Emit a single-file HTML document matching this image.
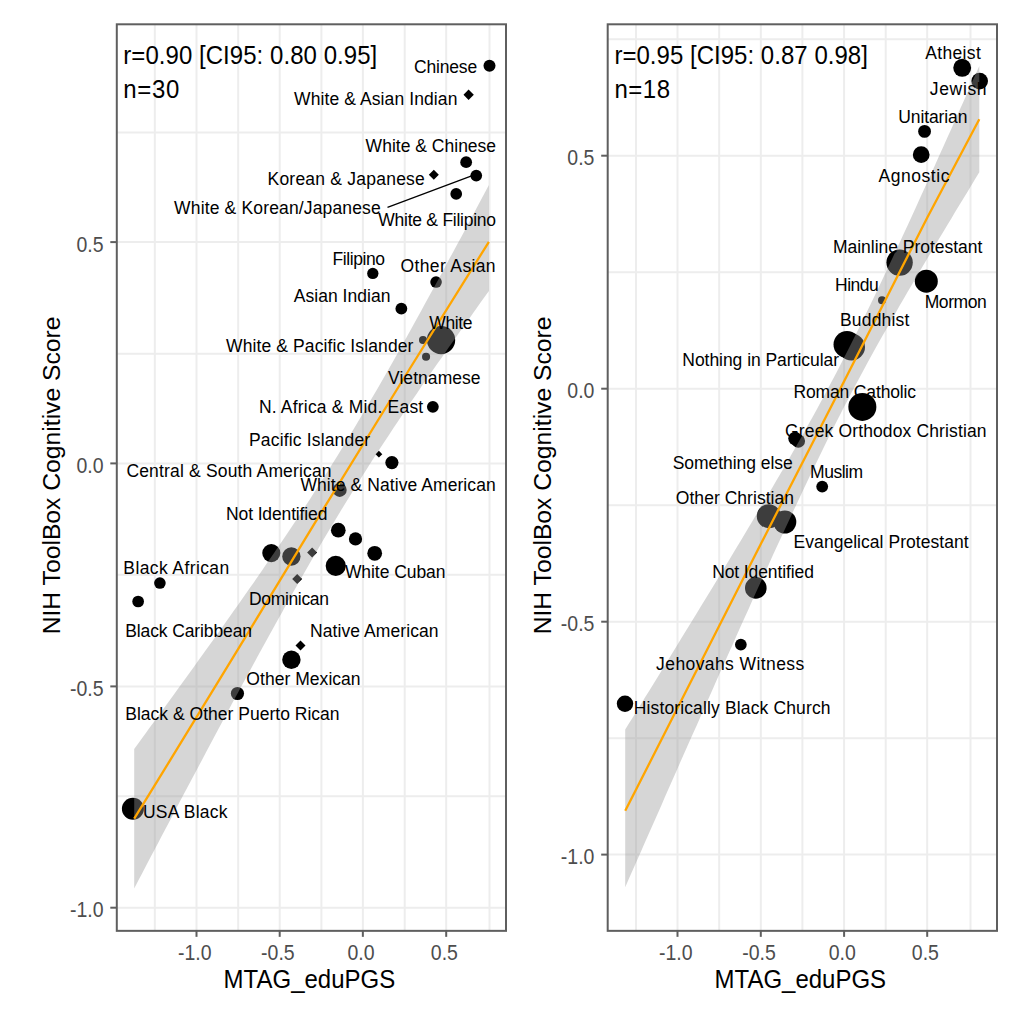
<!DOCTYPE html>
<html><head><meta charset="utf-8"><title>plot</title>
<style>html,body{margin:0;padding:0;background:#fff;width:1024px;height:1018px;overflow:hidden}
svg text{font-family:"Liberation Sans", sans-serif;}</style></head>
<body>
<svg width="1024" height="1018" viewBox="0 0 1024 1018" style="display:block">
<rect width="1024" height="1018" fill="#fff"/>
<clipPath id="clipL"><rect x="116.8" y="24.3" width="389.20" height="906.55"/></clipPath>
<g clip-path="url(#clipL)">
<line x1="154.80" y1="24.3" x2="154.80" y2="930.85" stroke="#ededed" stroke-width="2.0"/>
<line x1="196.50" y1="24.3" x2="196.50" y2="930.85" stroke="#ededed" stroke-width="2.0"/>
<line x1="238.20" y1="24.3" x2="238.20" y2="930.85" stroke="#ededed" stroke-width="2.0"/>
<line x1="279.70" y1="24.3" x2="279.70" y2="930.85" stroke="#ededed" stroke-width="2.0"/>
<line x1="321.40" y1="24.3" x2="321.40" y2="930.85" stroke="#ededed" stroke-width="2.0"/>
<line x1="362.85" y1="24.3" x2="362.85" y2="930.85" stroke="#ededed" stroke-width="2.0"/>
<line x1="404.70" y1="24.3" x2="404.70" y2="930.85" stroke="#ededed" stroke-width="2.0"/>
<line x1="446.20" y1="24.3" x2="446.20" y2="930.85" stroke="#ededed" stroke-width="2.0"/>
<line x1="489.50" y1="24.3" x2="489.50" y2="930.85" stroke="#ededed" stroke-width="2.0"/>
<line x1="116.8" y1="132.40" x2="506.0" y2="132.40" stroke="#ededed" stroke-width="2.0"/>
<line x1="116.8" y1="242.10" x2="506.0" y2="242.10" stroke="#ededed" stroke-width="2.0"/>
<line x1="116.8" y1="353.70" x2="506.0" y2="353.70" stroke="#ededed" stroke-width="2.0"/>
<line x1="116.8" y1="463.40" x2="506.0" y2="463.40" stroke="#ededed" stroke-width="2.0"/>
<line x1="116.8" y1="574.80" x2="506.0" y2="574.80" stroke="#ededed" stroke-width="2.0"/>
<line x1="116.8" y1="686.40" x2="506.0" y2="686.40" stroke="#ededed" stroke-width="2.0"/>
<line x1="116.8" y1="796.20" x2="506.0" y2="796.20" stroke="#ededed" stroke-width="2.0"/>
<line x1="116.8" y1="907.70" x2="506.0" y2="907.70" stroke="#ededed" stroke-width="2.0"/>
<circle cx="489.5" cy="65.7" r="6.00" fill="#000"/>
<polygon points="468.6,89.6 473.8,94.8 468.6,100.0 463.5,94.8" fill="#000"/>
<circle cx="466.15" cy="162.2" r="5.90" fill="#000"/>
<polygon points="433.8,169.8 438.8,174.8 433.8,179.8 428.8,174.8" fill="#000"/>
<circle cx="476.25" cy="175.55" r="5.85" fill="#000"/>
<circle cx="456.2" cy="193.95" r="5.85" fill="#000"/>
<circle cx="372.8" cy="273.4" r="5.65" fill="#000"/>
<circle cx="436.05" cy="282.05" r="5.80" fill="#000"/>
<circle cx="401.35" cy="308.65" r="5.90" fill="#000"/>
<circle cx="441.05" cy="340.05" r="14.15" fill="#000"/>
<circle cx="423" cy="340" r="4.00" fill="#000"/>
<circle cx="426.05" cy="356.75" r="4.05" fill="#000"/>
<circle cx="432.85" cy="406.8" r="5.90" fill="#000"/>
<polygon points="378.9,450.8 382.3,454.2 378.9,457.6 375.5,454.2" fill="#000"/>
<circle cx="391.9" cy="462.6" r="6.60" fill="#000"/>
<circle cx="339.7" cy="489.9" r="7.00" fill="#000"/>
<circle cx="338.3" cy="530.2" r="7.35" fill="#000"/>
<circle cx="355.5" cy="538.9" r="6.65" fill="#000"/>
<circle cx="374.7" cy="553.3" r="7.40" fill="#000"/>
<circle cx="271.3" cy="553.1" r="9.05" fill="#000"/>
<circle cx="291.4" cy="556.5" r="9.15" fill="#000"/>
<polygon points="312.1,547.4 317.1,552.4 312.1,557.4 307.1,552.4" fill="#000"/>
<circle cx="335.75" cy="565.8" r="10.10" fill="#000"/>
<polygon points="297.2,574.1 302.2,579.1 297.2,584.1 292.2,579.1" fill="#000"/>
<circle cx="159.9" cy="583.05" r="5.80" fill="#000"/>
<circle cx="138.15" cy="601.5" r="5.85" fill="#000"/>
<polygon points="300.5,640.4 305.5,645.4 300.5,650.4 295.5,645.4" fill="#000"/>
<circle cx="291.4" cy="659.7" r="9.20" fill="#000"/>
<circle cx="237.45" cy="693.5" r="6.60" fill="#000"/>
<circle cx="132.9" cy="808.7" r="11.00" fill="#000"/>
<polygon points="134.2,749.0 138.2,743.5 142.2,738.1 146.2,732.6 150.1,727.1 154.1,721.7 158.1,716.2 162.1,710.7 166.1,705.2 170.1,699.7 174.1,694.3 178.0,688.8 182.0,683.2 186.0,677.7 190.0,672.2 194.0,666.7 198.0,661.1 202.0,655.6 205.9,650.0 209.9,644.5 213.9,638.9 217.9,633.3 221.9,627.7 225.9,622.1 229.8,616.5 233.8,610.8 237.8,605.2 241.8,599.5 245.8,593.8 249.8,588.1 253.8,582.4 257.7,576.7 261.7,570.9 265.7,565.1 269.7,559.3 273.7,553.5 277.7,547.6 281.7,541.8 285.6,535.9 289.6,529.9 293.6,523.9 297.6,517.9 301.6,511.9 305.6,505.8 309.6,499.7 313.5,493.5 317.5,487.3 321.5,481.1 325.5,474.8 329.5,468.5 333.5,462.1 337.5,455.7 341.4,449.2 345.4,442.7 349.4,436.1 353.4,429.5 357.4,422.8 361.4,416.1 365.4,409.4 369.3,402.6 373.3,395.7 377.3,388.9 381.3,381.9 385.3,375.0 389.3,368.0 393.3,361.0 397.2,353.9 401.2,346.8 405.2,339.7 409.2,332.5 413.2,325.3 417.2,318.1 421.1,310.9 425.1,303.6 429.1,296.3 433.1,289.0 437.1,281.7 441.1,274.4 445.1,267.0 449.0,259.6 453.0,252.2 457.0,244.8 461.0,237.4 465.0,230.0 469.0,222.5 473.0,215.1 476.9,207.6 480.9,200.1 484.9,192.6 488.9,185.1 488.9,291.0 484.9,296.6 480.9,302.1 476.9,307.7 473.0,313.3 469.0,318.9 465.0,324.5 461.0,330.1 457.0,335.7 453.0,341.4 449.0,347.0 445.1,352.7 441.1,358.4 437.1,364.1 433.1,369.8 429.1,375.5 425.1,381.3 421.1,387.1 417.2,392.9 413.2,398.7 409.2,404.6 405.2,410.5 401.2,416.4 397.2,422.4 393.3,428.3 389.3,434.4 385.3,440.4 381.3,446.5 377.3,452.6 373.3,458.8 369.3,465.0 365.4,471.3 361.4,477.6 357.4,483.9 353.4,490.3 349.4,496.7 345.4,503.2 341.4,509.7 337.5,516.3 333.5,522.9 329.5,529.6 325.5,536.3 321.5,543.1 317.5,549.9 313.5,556.7 309.6,563.6 305.6,570.5 301.6,577.5 297.6,584.5 293.6,591.5 289.6,598.6 285.6,605.7 281.7,612.9 277.7,620.0 273.7,627.2 269.7,634.4 265.7,641.7 261.7,648.9 257.7,656.2 253.8,663.5 249.8,670.9 245.8,678.2 241.8,685.6 237.8,692.9 233.8,700.3 229.8,707.8 225.9,715.2 221.9,722.6 217.9,730.1 213.9,737.5 209.9,745.0 205.9,752.5 202.0,760.0 198.0,767.5 194.0,775.0 190.0,782.5 186.0,790.0 182.0,797.6 178.0,805.1 174.1,812.6 170.1,820.2 166.1,827.8 162.1,835.3 158.1,842.9 154.1,850.5 150.1,858.0 146.2,865.6 142.2,873.2 138.2,880.8 134.2,888.4" fill="#999999" fill-opacity="0.4"/>
<polyline points="134.20,818.60 155.00,784.95 238.10,649.20 321.30,512.40 404.60,377.00 488.90,241.80" fill="none" stroke="#FFA500" stroke-width="2.3" stroke-linejoin="round"/>
<line x1="387.5" y1="207.4" x2="471.6" y2="175.9" stroke="#000" stroke-width="1.2"/>
<text x="413.9" y="73.0" font-size="17.5" fill="#000" textLength="63.3" lengthAdjust="spacing">Chinese</text>
<text x="294.0" y="104.6" font-size="17.5" fill="#000" textLength="163.4" lengthAdjust="spacing">White &amp; Asian Indian</text>
<text x="365.6" y="152.4" font-size="17.5" fill="#000" textLength="130.5" lengthAdjust="spacing">White &amp; Chinese</text>
<text x="267.5" y="184.5" font-size="17.5" fill="#000" textLength="157.3" lengthAdjust="spacing">Korean &amp; Japanese</text>
<text x="174.1" y="214.2" font-size="17.5" fill="#000" textLength="206.6" lengthAdjust="spacing">White &amp; Korean/Japanese</text>
<text x="378.3" y="225.9" font-size="17.5" fill="#000" textLength="117.7" lengthAdjust="spacing">White &amp; Filipino</text>
<text x="332.6" y="264.5" font-size="17.5" fill="#000" textLength="52.3" lengthAdjust="spacing">Filipino</text>
<text x="400.5" y="272.3" font-size="17.5" fill="#000" textLength="95.1" lengthAdjust="spacing">Other Asian</text>
<text x="293.8" y="302.2" font-size="17.5" fill="#000" textLength="96.6" lengthAdjust="spacing">Asian Indian</text>
<text x="429.2" y="328.8" font-size="17.5" fill="#000" textLength="43.4" lengthAdjust="spacing">White</text>
<text x="226.0" y="352.0" font-size="17.5" fill="#000" textLength="187.4" lengthAdjust="spacing">White &amp; Pacific Islander</text>
<text x="388.0" y="384.0" font-size="17.5" fill="#000" textLength="92.6" lengthAdjust="spacing">Vietnamese</text>
<text x="258.9" y="412.7" font-size="17.5" fill="#000" textLength="164.3" lengthAdjust="spacing">N. Africa &amp; Mid. East</text>
<text x="249.0" y="445.5" font-size="17.5" fill="#000" textLength="121.1" lengthAdjust="spacing">Pacific Islander</text>
<text x="126.4" y="477.1" font-size="17.5" fill="#000" textLength="205.2" lengthAdjust="spacing">Central &amp; South American</text>
<text x="300.4" y="490.8" font-size="17.5" fill="#000" textLength="195.3" lengthAdjust="spacing">White &amp; Native American</text>
<text x="226.1" y="520.2" font-size="17.5" fill="#000" textLength="101.3" lengthAdjust="spacing">Not Identified</text>
<text x="123.3" y="573.5" font-size="17.5" fill="#000" textLength="105.9" lengthAdjust="spacing">Black African</text>
<text x="344.9" y="578.0" font-size="17.5" fill="#000" textLength="100.6" lengthAdjust="spacing">White Cuban</text>
<text x="249.0" y="604.7" font-size="17.5" fill="#000" textLength="79.9" lengthAdjust="spacing">Dominican</text>
<text x="125.2" y="636.9" font-size="17.5" fill="#000" textLength="126.8" lengthAdjust="spacing">Black Caribbean</text>
<text x="309.9" y="636.9" font-size="17.5" fill="#000" textLength="128.7" lengthAdjust="spacing">Native American</text>
<text x="246.3" y="684.5" font-size="17.5" fill="#000" textLength="114.3" lengthAdjust="spacing">Other Mexican</text>
<text x="125.2" y="720.0" font-size="17.5" fill="#000" textLength="214.4" lengthAdjust="spacing">Black &amp; Other Puerto Rican</text>
<text x="143.0" y="818.1" font-size="17.5" fill="#000" textLength="84.4" lengthAdjust="spacing">USA Black</text>
<text transform="translate(123.3,64.0) scale(1,1.09)" font-size="24" fill="#000" textLength="254.0" lengthAdjust="spacing">r=0.90 [CI95: 0.80 0.95]</text>
<text transform="translate(123.3,98.0) scale(1,1.09)" font-size="24" fill="#000" textLength="56.0" lengthAdjust="spacing">n=30</text>
</g>
<rect x="116.8" y="24.3" width="389.20" height="906.55" fill="none" stroke="#5f5f5f" stroke-width="2.0"/>
<line x1="196.50" y1="930.85" x2="196.50" y2="936.85" stroke="#5f5f5f" stroke-width="2.0"/>
<text transform="translate(194.70,960.2) scale(1,1.12)" font-size="19.5" fill="#4d4d4d" text-anchor="middle">-1.0</text>
<line x1="279.70" y1="930.85" x2="279.70" y2="936.85" stroke="#5f5f5f" stroke-width="2.0"/>
<text transform="translate(277.90,960.2) scale(1,1.12)" font-size="19.5" fill="#4d4d4d" text-anchor="middle">-0.5</text>
<line x1="362.85" y1="930.85" x2="362.85" y2="936.85" stroke="#5f5f5f" stroke-width="2.0"/>
<text transform="translate(361.05,960.2) scale(1,1.12)" font-size="19.5" fill="#4d4d4d" text-anchor="middle">0.0</text>
<line x1="446.20" y1="930.85" x2="446.20" y2="936.85" stroke="#5f5f5f" stroke-width="2.0"/>
<text transform="translate(444.40,960.2) scale(1,1.12)" font-size="19.5" fill="#4d4d4d" text-anchor="middle">0.5</text>
<line x1="110.3" y1="907.70" x2="116.8" y2="907.70" stroke="#5f5f5f" stroke-width="2.0"/>
<text transform="translate(103.50,917.10) scale(1,1.12)" font-size="19.5" fill="#4d4d4d" text-anchor="end">-1.0</text>
<line x1="110.3" y1="686.40" x2="116.8" y2="686.40" stroke="#5f5f5f" stroke-width="2.0"/>
<text transform="translate(103.50,695.80) scale(1,1.12)" font-size="19.5" fill="#4d4d4d" text-anchor="end">-0.5</text>
<line x1="110.3" y1="463.40" x2="116.8" y2="463.40" stroke="#5f5f5f" stroke-width="2.0"/>
<text transform="translate(103.50,472.80) scale(1,1.12)" font-size="19.5" fill="#4d4d4d" text-anchor="end">0.0</text>
<line x1="110.3" y1="242.10" x2="116.8" y2="242.10" stroke="#5f5f5f" stroke-width="2.0"/>
<text transform="translate(103.50,251.50) scale(1,1.12)" font-size="19.5" fill="#4d4d4d" text-anchor="end">0.5</text>
<text transform="translate(309.40,987.8) scale(1,1.08)" font-size="24" fill="#000" text-anchor="middle">MTAG_eduPGS</text>
<text transform="translate(60.4,475.40) rotate(-90)" x="0" y="0" font-size="24.7" fill="#000" text-anchor="middle">NIH ToolBox Cognitive Score</text>
<clipPath id="clipR"><rect x="607.7" y="24.3" width="389.30" height="906.55"/></clipPath>
<g clip-path="url(#clipR)">
<line x1="636.00" y1="24.3" x2="636.00" y2="930.85" stroke="#ededed" stroke-width="2.0"/>
<line x1="677.50" y1="24.3" x2="677.50" y2="930.85" stroke="#ededed" stroke-width="2.0"/>
<line x1="719.20" y1="24.3" x2="719.20" y2="930.85" stroke="#ededed" stroke-width="2.0"/>
<line x1="760.80" y1="24.3" x2="760.80" y2="930.85" stroke="#ededed" stroke-width="2.0"/>
<line x1="802.40" y1="24.3" x2="802.40" y2="930.85" stroke="#ededed" stroke-width="2.0"/>
<line x1="844.10" y1="24.3" x2="844.10" y2="930.85" stroke="#ededed" stroke-width="2.0"/>
<line x1="885.70" y1="24.3" x2="885.70" y2="930.85" stroke="#ededed" stroke-width="2.0"/>
<line x1="927.20" y1="24.3" x2="927.20" y2="930.85" stroke="#ededed" stroke-width="2.0"/>
<line x1="970.50" y1="24.3" x2="970.50" y2="930.85" stroke="#ededed" stroke-width="2.0"/>
<line x1="607.7" y1="39.20" x2="997.0" y2="39.20" stroke="#ededed" stroke-width="2.0"/>
<line x1="607.7" y1="155.70" x2="997.0" y2="155.70" stroke="#ededed" stroke-width="2.0"/>
<line x1="607.7" y1="272.20" x2="997.0" y2="272.20" stroke="#ededed" stroke-width="2.0"/>
<line x1="607.7" y1="388.70" x2="997.0" y2="388.70" stroke="#ededed" stroke-width="2.0"/>
<line x1="607.7" y1="505.20" x2="997.0" y2="505.20" stroke="#ededed" stroke-width="2.0"/>
<line x1="607.7" y1="621.70" x2="997.0" y2="621.70" stroke="#ededed" stroke-width="2.0"/>
<line x1="607.7" y1="738.20" x2="997.0" y2="738.20" stroke="#ededed" stroke-width="2.0"/>
<line x1="607.7" y1="854.60" x2="997.0" y2="854.60" stroke="#ededed" stroke-width="2.0"/>
<circle cx="962.2" cy="67.8" r="8.95" fill="#000"/>
<circle cx="979.7" cy="81.1" r="8.30" fill="#000"/>
<circle cx="924.55" cy="131.4" r="6.40" fill="#000"/>
<circle cx="921.2" cy="154.7" r="8.35" fill="#000"/>
<circle cx="899.6" cy="262.6" r="13.20" fill="#000"/>
<circle cx="926.3" cy="281.2" r="11.50" fill="#000"/>
<circle cx="882" cy="300.3" r="4.00" fill="#000"/>
<circle cx="847" cy="344.5" r="13.50" fill="#000"/>
<circle cx="851.5" cy="347" r="13.50" fill="#000"/>
<circle cx="862.35" cy="406.9" r="14.00" fill="#000"/>
<circle cx="795" cy="438.5" r="6.75" fill="#000"/>
<circle cx="798.3" cy="441" r="6.75" fill="#000"/>
<circle cx="822.2" cy="486.6" r="5.90" fill="#000"/>
<circle cx="768.8" cy="516.2" r="12.00" fill="#000"/>
<circle cx="784.8" cy="522" r="11.50" fill="#000"/>
<circle cx="755.8" cy="587.9" r="10.80" fill="#000"/>
<circle cx="740.85" cy="644.7" r="5.85" fill="#000"/>
<circle cx="625" cy="703.8" r="8.20" fill="#000"/>
<polygon points="625.2,729.6 629.2,723.1 633.2,716.7 637.2,710.2 641.2,703.8 645.1,697.3 649.1,690.9 653.1,684.4 657.1,678.0 661.1,671.5 665.0,665.0 669.0,658.5 673.0,652.1 677.0,645.6 680.9,639.1 684.9,632.6 688.9,626.1 692.9,619.6 696.9,613.1 700.8,606.6 704.8,600.0 708.8,593.5 712.8,587.0 716.7,580.4 720.7,573.9 724.7,567.3 728.7,560.7 732.7,554.1 736.6,547.5 740.6,540.9 744.6,534.3 748.6,527.6 752.5,521.0 756.5,514.3 760.5,507.6 764.5,500.9 768.5,494.1 772.4,487.4 776.4,480.6 780.4,473.7 784.4,466.9 788.4,460.0 792.3,453.0 796.3,446.1 800.3,439.0 804.3,432.0 808.2,424.8 812.2,417.7 816.2,410.4 820.2,403.1 824.2,395.7 828.1,388.3 832.1,380.8 836.1,373.2 840.1,365.5 844.0,357.8 848.0,350.0 852.0,342.1 856.0,334.1 860.0,326.1 863.9,318.0 867.9,309.8 871.9,301.6 875.9,293.3 879.8,284.9 883.8,276.5 887.8,268.1 891.8,259.6 895.8,251.0 899.7,242.4 903.7,233.8 907.7,225.2 911.7,216.5 915.7,207.8 919.6,199.0 923.6,190.3 927.6,181.5 931.6,172.7 935.5,163.9 939.5,155.0 943.5,146.2 947.5,137.3 951.5,128.4 955.4,119.5 959.4,110.6 963.4,101.7 967.4,92.7 971.3,83.8 975.3,74.9 979.3,65.9 979.3,172.3 975.3,178.8 971.3,185.4 967.4,191.9 963.4,198.5 959.4,205.1 955.4,211.6 951.5,218.2 947.5,224.8 943.5,231.5 939.5,238.1 935.5,244.7 931.6,251.4 927.6,258.1 923.6,264.8 919.6,271.5 915.7,278.3 911.7,285.0 907.7,291.8 903.7,298.7 899.7,305.6 895.8,312.5 891.8,319.4 887.8,326.4 883.8,333.4 879.8,340.5 875.9,347.6 871.9,354.8 867.9,362.1 863.9,369.4 860.0,376.8 856.0,384.2 852.0,391.8 848.0,399.4 844.0,407.0 840.1,414.8 836.1,422.6 832.1,430.5 828.1,438.5 824.2,446.5 820.2,454.7 816.2,462.9 812.2,471.1 808.2,479.4 804.3,487.8 800.3,496.2 796.3,504.7 792.3,513.2 788.4,521.7 784.4,530.3 780.4,538.9 776.4,547.6 772.4,556.3 768.5,565.0 764.5,573.7 760.5,582.5 756.5,591.3 752.5,600.1 748.6,608.9 744.6,617.8 740.6,626.6 736.6,635.5 732.7,644.4 728.7,653.3 724.7,662.2 720.7,671.1 716.7,680.1 712.8,689.0 708.8,698.0 704.8,706.9 700.8,715.9 696.9,724.9 692.9,733.8 688.9,742.8 684.9,751.8 680.9,760.8 677.0,769.8 673.0,778.8 669.0,787.8 665.0,796.8 661.1,805.9 657.1,814.9 653.1,823.9 649.1,832.9 645.1,842.0 641.2,851.0 637.2,860.0 633.2,869.1 629.2,878.1 625.2,887.2" fill="#999999" fill-opacity="0.4"/>
<polyline points="625.25,810.80 677.50,708.10 760.80,544.00 844.00,381.50 927.20,217.70 979.30,119.30" fill="none" stroke="#FFA500" stroke-width="2.3" stroke-linejoin="round"/>
<text x="925.2" y="58.5" font-size="17.5" fill="#000" textLength="55.6" lengthAdjust="spacing">Atheist</text>
<text x="929.8" y="95.0" font-size="17.5" fill="#000" textLength="56.8" lengthAdjust="spacing">Jewish</text>
<text x="898.3" y="123.0" font-size="17.5" fill="#000" textLength="69.1" lengthAdjust="spacing">Unitarian</text>
<text x="878.4" y="182.1" font-size="17.5" fill="#000" textLength="71.0" lengthAdjust="spacing">Agnostic</text>
<text x="833.0" y="253.1" font-size="17.5" fill="#000" textLength="149.4" lengthAdjust="spacing">Mainline Protestant</text>
<text x="835.0" y="291.3" font-size="17.5" fill="#000" textLength="43.8" lengthAdjust="spacing">Hindu</text>
<text x="924.7" y="307.9" font-size="17.5" fill="#000" textLength="62.0" lengthAdjust="spacing">Mormon</text>
<text x="840.0" y="325.5" font-size="17.5" fill="#000" textLength="69.4" lengthAdjust="spacing">Buddhist</text>
<text x="682.3" y="366.0" font-size="17.5" fill="#000" textLength="156.7" lengthAdjust="spacing">Nothing in Particular</text>
<text x="793.5" y="397.5" font-size="17.5" fill="#000" textLength="122.5" lengthAdjust="spacing">Roman Catholic</text>
<text x="785.1" y="436.5" font-size="17.5" fill="#000" textLength="201.5" lengthAdjust="spacing">Greek Orthodox Christian</text>
<text x="672.7" y="469.1" font-size="17.5" fill="#000" textLength="120.1" lengthAdjust="spacing">Something else</text>
<text x="810.1" y="477.5" font-size="17.5" fill="#000" textLength="52.9" lengthAdjust="spacing">Muslim</text>
<text x="675.8" y="503.6" font-size="17.5" fill="#000" textLength="118.2" lengthAdjust="spacing">Other Christian</text>
<text x="793.6" y="547.7" font-size="17.5" fill="#000" textLength="175.0" lengthAdjust="spacing">Evangelical Protestant</text>
<text x="712.2" y="578.4" font-size="17.5" fill="#000" textLength="101.7" lengthAdjust="spacing">Not Identified</text>
<text x="656.1" y="670.1" font-size="17.5" fill="#000" textLength="148.1" lengthAdjust="spacing">Jehovahs Witness</text>
<text x="633.7" y="713.6" font-size="17.5" fill="#000" textLength="196.8" lengthAdjust="spacing">Historically Black Church</text>
<text transform="translate(614.4,64.3) scale(1,1.09)" font-size="24" fill="#000" textLength="253.5" lengthAdjust="spacing">r=0.95 [CI95: 0.87 0.98]</text>
<text transform="translate(614.4,97.7) scale(1,1.09)" font-size="24" fill="#000" textLength="55.7" lengthAdjust="spacing">n=18</text>
</g>
<rect x="607.7" y="24.3" width="389.30" height="906.55" fill="none" stroke="#5f5f5f" stroke-width="2.0"/>
<line x1="677.50" y1="930.85" x2="677.50" y2="936.85" stroke="#5f5f5f" stroke-width="2.0"/>
<text transform="translate(675.70,960.2) scale(1,1.12)" font-size="19.5" fill="#4d4d4d" text-anchor="middle">-1.0</text>
<line x1="760.80" y1="930.85" x2="760.80" y2="936.85" stroke="#5f5f5f" stroke-width="2.0"/>
<text transform="translate(759.00,960.2) scale(1,1.12)" font-size="19.5" fill="#4d4d4d" text-anchor="middle">-0.5</text>
<line x1="844.10" y1="930.85" x2="844.10" y2="936.85" stroke="#5f5f5f" stroke-width="2.0"/>
<text transform="translate(842.30,960.2) scale(1,1.12)" font-size="19.5" fill="#4d4d4d" text-anchor="middle">0.0</text>
<line x1="927.20" y1="930.85" x2="927.20" y2="936.85" stroke="#5f5f5f" stroke-width="2.0"/>
<text transform="translate(925.40,960.2) scale(1,1.12)" font-size="19.5" fill="#4d4d4d" text-anchor="middle">0.5</text>
<line x1="601.2" y1="854.60" x2="607.7" y2="854.60" stroke="#5f5f5f" stroke-width="2.0"/>
<text transform="translate(594.40,864.00) scale(1,1.12)" font-size="19.5" fill="#4d4d4d" text-anchor="end">-1.0</text>
<line x1="601.2" y1="621.70" x2="607.7" y2="621.70" stroke="#5f5f5f" stroke-width="2.0"/>
<text transform="translate(594.40,631.10) scale(1,1.12)" font-size="19.5" fill="#4d4d4d" text-anchor="end">-0.5</text>
<line x1="601.2" y1="388.70" x2="607.7" y2="388.70" stroke="#5f5f5f" stroke-width="2.0"/>
<text transform="translate(594.40,398.10) scale(1,1.12)" font-size="19.5" fill="#4d4d4d" text-anchor="end">0.0</text>
<line x1="601.2" y1="155.70" x2="607.7" y2="155.70" stroke="#5f5f5f" stroke-width="2.0"/>
<text transform="translate(594.40,165.10) scale(1,1.12)" font-size="19.5" fill="#4d4d4d" text-anchor="end">0.5</text>
<text transform="translate(800.35,987.8) scale(1,1.08)" font-size="24" fill="#000" text-anchor="middle">MTAG_eduPGS</text>
<text transform="translate(551.4,475.40) rotate(-90)" x="0" y="0" font-size="24.7" fill="#000" text-anchor="middle">NIH ToolBox Cognitive Score</text>
</svg>
</body></html>
